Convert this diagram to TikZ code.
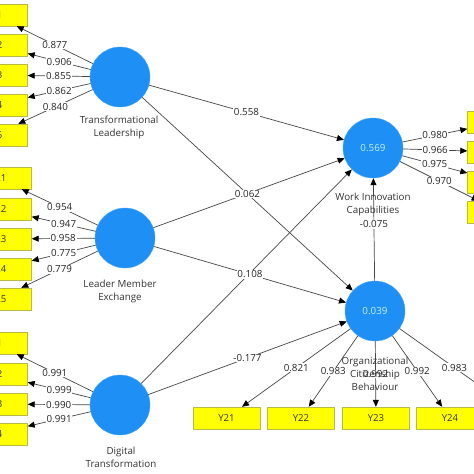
\documentclass[tikz,border=0pt]{standalone}
\usepackage{fontspec}
\setmainfont{Open Sans}
\usetikzlibrary{arrows.meta}
\definecolor{lvblue}{RGB}{30,144,245}
\definecolor{boxyellow}{RGB}{255,255,0}
\definecolor{boxedge}{RGB}{185,185,70}
\definecolor{rtext}{RGB}{195,238,255}
\begin{document}
\begin{tikzpicture}[x=1pt,y=-1pt,
 latent/.style={circle,fill=lvblue,draw=lvblue!80!white,minimum size=60pt,inner sep=0pt,font=\fontsize{9.8}{11}\selectfont,text=rtext},
 ind/.style={rectangle,fill=boxyellow,draw=boxedge,minimum width=67pt,minimum height=22pt,inner sep=0pt,font=\fontsize{9.6}{11}\selectfont,text=black!80},
 lname/.style={align=center,font=\fontsize{9.8}{12.9}\selectfont,text=black!80},
 load/.style={fill=white,inner sep=0.8pt,font=\fontsize{9.8}{11}\selectfont,text=black!85},
 conn/.style={draw=black!72,line width=0.7pt,-{Triangle[length=7pt,width=6pt,fill=black,color=black]}},
]
\fill[white] (0,0) rectangle (474,474);
\useasboundingbox (0,0) rectangle (474,474);

% latent variables
\node[latent] (tl) at (120,77) {};
\node[latent] (lmx) at (125,238) {};
\node[latent] (dt) at (120,405) {};
\node[latent] (wic) at (373,148) {0.569};
\node[latent] (ocb) at (375,311) {0.039};

% indicators TL
\node[ind] (x11) at (-6,15) {X11};
\node[ind] (x12) at (-6,45) {X12};
\node[ind] (x13) at (-6,75) {X13};
\node[ind] (x14) at (-6,105) {X14};
\node[ind] (x15) at (-6,135) {X15};
% indicators LMX
\node[ind] (x21) at (-2,178) {X21};
\node[ind] (x22) at (-2,209) {X22};
\node[ind] (x23) at (-2,239) {X23};
\node[ind] (x24) at (-2,269) {X24};
\node[ind] (x25) at (-2,299) {X25};
% indicators DT
\node[ind] (x31) at (-6,343) {X31};
\node[ind] (x32) at (-6,374) {X32};
\node[ind] (x33) at (-6,404) {X33};
\node[ind] (x34) at (-6,434) {X34};
% indicators WIC
\node[ind] (y11) at (501,122) {Y11};
\node[ind] (y12) at (501,152) {Y12};
\node[ind] (y13) at (501,182) {Y13};
\node[ind] (y14) at (501,212) {Y14};
% indicators OCB
\node[ind] (y21) at (226.5,418) {Y21};
\node[ind] (y22) at (301,418) {Y22};
\node[ind] (y23) at (376,418) {Y23};
\node[ind] (y24) at (450,418) {Y24};
\node[ind] (y25) at (525,418) {Y25};

% outer loadings
\draw[conn] (tl) -- node[load]{0.877} (x11);
\draw[conn] (tl) -- node[load]{0.906} (x12);
\draw[conn] (tl) -- node[load]{0.855} (x13);
\draw[conn] (tl) -- node[load]{0.862} (x14);
\draw[conn] (tl) -- node[load]{0.840} (x15);

\draw[conn] (lmx) -- node[load]{0.954} (x21);
\draw[conn] (lmx) -- node[load]{0.947} (x22);
\draw[conn] (lmx) -- node[load]{0.958} (x23);
\draw[conn] (lmx) -- node[load]{0.775} (x24);
\draw[conn] (lmx) -- node[load]{0.779} (x25);

\draw[conn] (dt) -- node[load]{0.991} (x31);
\draw[conn] (dt) -- node[load]{0.999} (x32);
\draw[conn] (dt) -- node[load]{0.990} (x33);
\draw[conn] (dt) -- node[load]{0.991} (x34);

\draw[conn] (wic) -- node[load]{0.980} (y11);
\draw[conn] (wic) -- node[load]{0.966} (y12);
\draw[conn] (wic) -- node[load]{0.975} (y13);
\draw[conn] (wic) -- node[load]{0.970} (y14);

\draw[conn] (ocb) -- node[load]{0.821} (y21);
\draw[conn] (ocb) -- node[load]{0.983} (y22);
\draw[conn] (ocb) -- node[load]{0.992} (y23);
\draw[conn] (ocb) -- node[load]{0.992} (y24);
\draw[conn] (ocb) -- node[load]{0.983} (y25);

% structural paths
\draw[conn] (lmx) -- (wic);
\draw[conn] (dt) -- (wic);
\draw[conn] (tl) -- node[load]{0.558} (wic);
\draw[conn] (tl) -- node[load]{0.062} (ocb);
\draw[conn] (lmx) -- node[load]{0.108} (ocb);
\draw[conn] (dt) -- node[load]{-0.177} (ocb);
\draw[conn] (ocb) -- node[load,pos=0.55]{-0.075} (wic);

% construct names
\node[lname] (tln) at (119,127.5) {Transformational\\Leadership};
\node[lname] (lmxn) at (120,291) {Leader Member\\Exchange};
\node[lname] (dtn) at (121,457) {Digital\\Transformation};
\node[lname] (wicn) at (373,204.5) {Work Innovation\\Capabilities};
\node[lname] (ocbn) at (375,373.5) {Organizational\\Citizenship\\Behaviour};
\end{tikzpicture}
\end{document}
